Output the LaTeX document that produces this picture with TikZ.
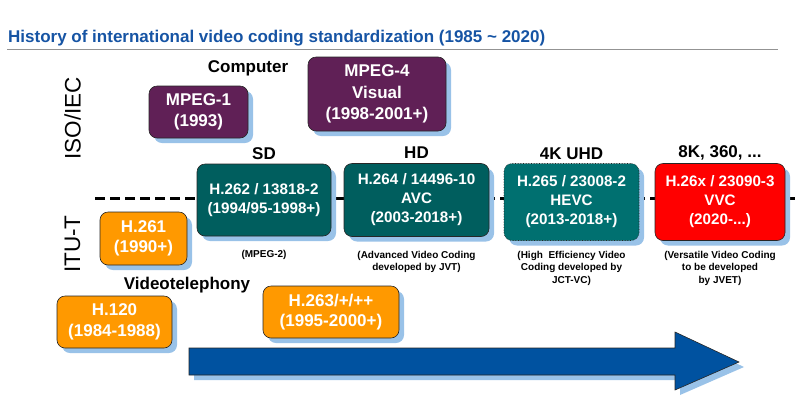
\documentclass[tikz,border=0pt]{standalone}
\usepackage{fontspec}
\setmainfont{Liberation Sans}
\usetikzlibrary{positioning,shadows}
\definecolor{titleblue}{RGB}{22,84,164}
\definecolor{isopurple}{RGB}{96,32,86}
\definecolor{ituorange}{RGB}{255,153,0}
\definecolor{jointteal}{RGB}{0,94,94}
\definecolor{hevcteal}{RGB}{0,112,112}
\definecolor{vvcred}{RGB}{255,0,0}
\definecolor{arrowblue}{RGB}{0,82,160}
\definecolor{shadowblue}{RGB}{153,194,232}

\begin{document}
\begin{tikzpicture}[x=1pt, y=-1pt,
    shadowed/.style={drop shadow={shadow xshift=5pt, shadow yshift=-5pt, fill=shadowblue, opacity=1}},
    std/.style={shadowed, draw=black!85, line width=0.6pt, rounded corners=8pt, text=white, align=center, inner sep=0pt},
    big/.style={std, font=\bfseries\fontsize{17}{20.5}\selectfont},
    small/.style={std, font=\bfseries\fontsize{15.2}{19}\selectfont},
    iso/.style={big, fill=isopurple},
    itu/.style={big, fill=ituorange},
    joint/.style={small, fill=jointteal},
    lbl/.style={font=\bfseries\fontsize{17}{20}\selectfont},
    note/.style={font=\bfseries\fontsize{10}{12.5}\selectfont, align=center, inner sep=0pt},
    org/.style={font=\fontsize{22.5}{27}\selectfont, rotate=90}]

\useasboundingbox (0,0) rectangle (800,400);

\node[anchor=base west, inner sep=0pt, text=titleblue, font=\bfseries\fontsize{17}{20}\selectfont] (title) at (8,42)
    {History of international video coding standardization (1985 \textasciitilde{} 2020)};
\draw[gray!85, line width=1pt] (7,49) -- (778,49);

\coordinate (sepW) at (95,198);
\coordinate (sepE) at (800,198);
\draw[line width=3pt, dash pattern=on 10pt off 5pt] (sepW) -- (sepE);

\node[org] (isoiec) at (72.5,118.5) {ISO/IEC};
\node[org] (itut) at (72.5,244) {ITU-T};

\node[iso, minimum width=99pt, minimum height=52pt] (mpeg1) at (198.5,112) {MPEG-1\\(1993)};
\node[iso, minimum width=138pt, minimum height=74pt, font=\bfseries\fontsize{17}{21.5}\selectfont] (mpeg4) at (377,94) {MPEG-4\\Visual\\(1998-2001+)};

\node[joint, minimum width=134pt, minimum height=72pt] (h262) at (264,200) {H.262 / 13818-2\\(1994/95-1998+)};
\node[joint, minimum width=145pt, minimum height=73pt] (h264) at (416.5,200) {H.264 / 14496-10\\AVC\\(2003-2018+)};
\node[small, fill=hevcteal, densely dotted, minimum width=135pt, minimum height=77pt] (h265) at (571.5,202) {H.265 / 23008-2\\HEVC\\(2013-2018+)};
\node[small, fill=vvcred, minimum width=130pt, minimum height=77pt] (h26x) at (720,202) {H.26x / 23090-3\\VVC\\(2020-...)};

\node[itu, minimum width=87pt, minimum height=53pt] (h261) at (143.5,238.5) {H.261\\(1990+)};
\node[itu, minimum width=115pt, minimum height=52pt] (h120) at (114.5,322) {H.120\\(1984-1988)};
\node[itu, minimum width=136pt, minimum height=52pt] (h263) at (331,312) {H.263/+/++\\(1995-2000+)};

\node[lbl, anchor=base] (computer) at (248,72) {Computer};
\node[lbl, anchor=base] (videotel) at (187,289) {Videotelephony};
\node[lbl, above=1pt of h262] (sd) {SD};
\node[lbl, above=1pt of h264] (hd) {HD};
\node[lbl, above=0pt of h265] (uhd) {4K UHD};
\node[lbl, above=0pt of h26x] (eightk) {8K, 360, ...};

\node[note, below=14pt of h262] (n262) {(MPEG-2)};
\node[note, below=14pt of h264] (n264) {(Advanced Video Coding\\developed by JVT)};
\node[note, below=10pt of h265] (n265) {(High\ \ Efficiency Video\\Coding developed by\\JCT-VC)};
\node[note, below=10pt of h26x] (n26x) {(Versatile Video Coding\\to be developed\\by JVET)};

\draw[shadowed, draw=black!85, line width=0.6pt, fill=arrowblue]
    (189,348) -- (675,348) -- (675,332) -- (739,362) -- (675,390) -- (675,375) -- (189,375) -- cycle;
\end{tikzpicture}
\end{document}
